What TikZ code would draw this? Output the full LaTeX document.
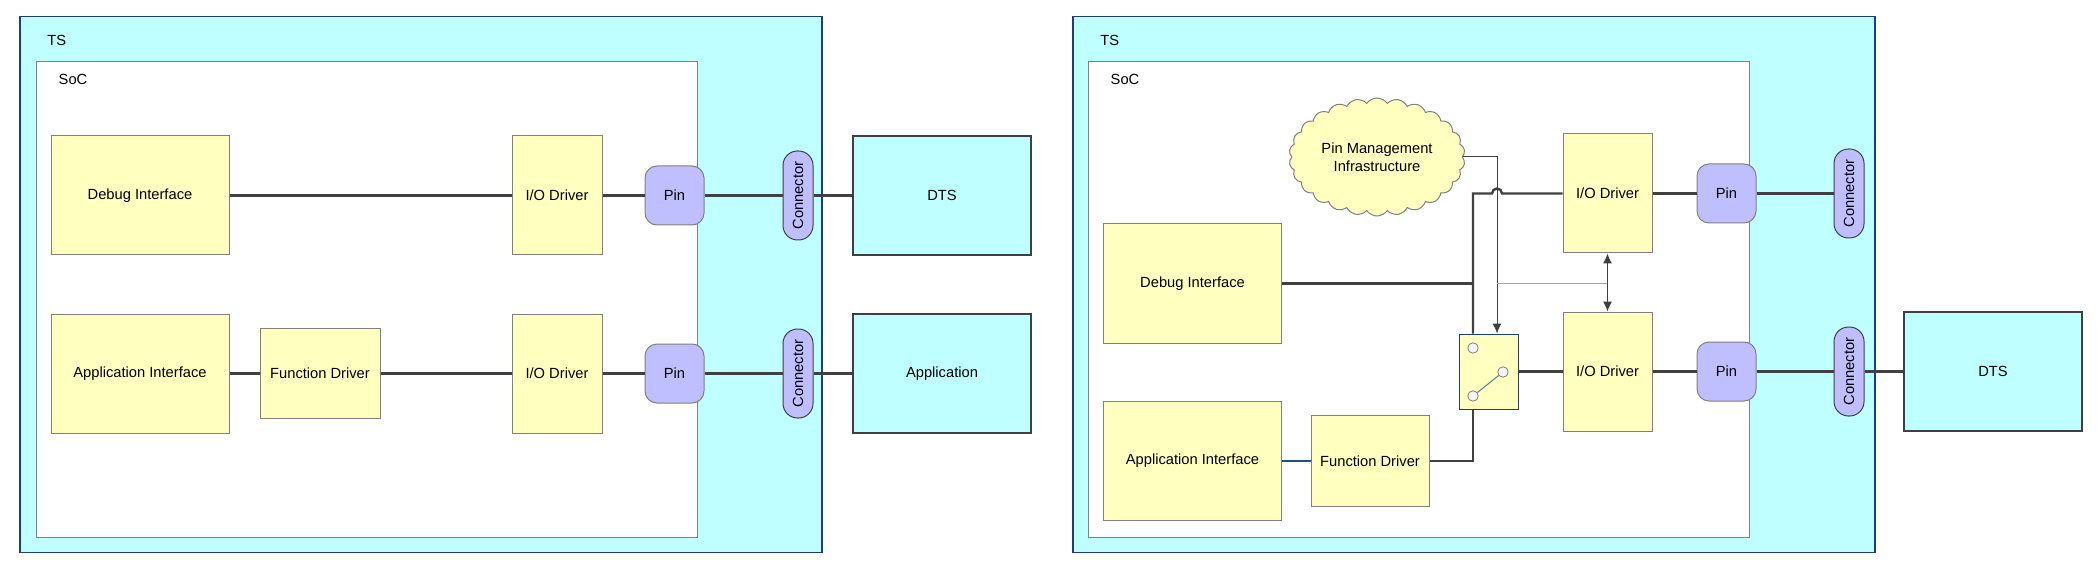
\documentclass[tikz,border=0pt]{standalone}
\usepackage{fontspec}
\setmainfont{Liberation Sans}
\usetikzlibrary{shapes, shapes.symbols, arrows.meta, positioning, calc}

\definecolor{tsfill}{HTML}{BFFFFF}
\definecolor{tsline}{HTML}{1F3D7A}
\definecolor{blockfill}{HTML}{FFFFC0}
\definecolor{pinfill}{HTML}{BFBFFF}
\definecolor{wirecol}{HTML}{404040}
\definecolor{edgecol}{HTML}{808080}
\definecolor{appwire}{HTML}{1F4E8C}
\definecolor{levercol}{HTML}{5A78A8}

\begin{document}
\begin{tikzpicture}[x=1pt, y=-1pt, font=\fontsize{14.7}{17.5}\selectfont,
	ts/.style={draw=tsline, line width=1.6pt, fill=tsfill, minimum width=802pt, minimum height=536pt},
	soc/.style={draw=edgecol, line width=1pt, fill=white, minimum width=661pt, minimum height=476pt},
	tag/.style={anchor=west, inner sep=0pt},
	block/.style={draw=edgecol, line width=1pt, fill=blockfill, minimum width=#1, minimum height=119pt},
	block/.default=178pt,
	pin/.style={draw=edgecol, line width=1pt, fill=pinfill, rounded corners=12pt, minimum size=59pt},
	conn/.style={draw=wirecol, line width=1pt, fill=pinfill, rounded corners=14.5pt, rotate=90,
		minimum width=89pt, minimum height=30pt, inner sep=0pt},
	ext/.style={draw=wirecol, line width=2pt, fill=tsfill, minimum width=178pt, minimum height=119pt},
	pmcloud/.style={cloud, cloud puffs=26, cloud puff arc=110, aspect=1.5, draw=edgecol, line width=1pt,
		fill=blockfill, minimum width=176pt, minimum height=118pt, inner sep=0pt, align=center},
	switch/.style={draw=tsline, line width=1pt, fill=blockfill, minimum width=59pt, minimum height=75pt},
	knob/.style={circle, draw=edgecol, line width=0.8pt, fill=gray!8, minimum size=10.5pt, inner sep=0pt},
	wire/.style={draw=wirecol, line width=2.4pt},
	sig/.style={draw=wirecol, line width=1pt},
	tip/.style={-{Latex[length=10pt,width=9pt]}},
	dtip/.style={{Latex[length=10pt,width=9pt]}-{Latex[length=10pt,width=9pt]}}]

	\useasboundingbox (0,0) rectangle (2100,569);

	% without pin management
	\node[ts] (ts1) at (421,284.5) {};
	\node[tag] (tslab1) at ([xshift=28pt,yshift=-25pt]ts1.north west) {TS};
	\node[soc] (soc1) at (366.5,299.5) {};
	\node[tag] (soclab1) at ([xshift=23pt,yshift=-18pt]soc1.north west) {SoC};

	\node[block] (dbg1) at (140,195.5) {Debug Interface};
	\node[block=90pt] (io1) at (557,195.5) {I/O Driver};
	\node[pin] (pin1) at (674.5,195.5) {Pin};
	\node[conn] (con1) at (798,195.5) {Connector};
	\node[ext] (dts1) at (942,195.5) {DTS};

	\node[block] (app1) at (140,373.5) {Application Interface};
	\node[block=120pt, minimum height=90pt] (fd1) at (320,373.5) {Function Driver};
	\node[block=90pt] (io2) at (557,373.5) {I/O Driver};
	\node[pin] (pin2) at (674.5,373.5) {Pin};
	\node[conn] (con2) at (798,373.5) {Connector};
	\node[ext] (appx) at (942,373.5) {Application};

	\draw[wire] (dbg1) -- (io1);
	\draw[wire] (io1) -- (pin1);
	\draw[wire] (pin1) -- (con1);
	\draw[wire] (con1) -- (dts1);
	\draw[wire] (app1) -- (fd1);
	\draw[wire] (fd1) -- (io2);
	\draw[wire] (io2) -- (pin2);
	\draw[wire] (pin2) -- (con2);
	\draw[wire] (con2) -- (appx);

	% with pin management
	\node[ts] (ts2) at (1474,284.5) {};
	\node[tag] (tslab2) at ([xshift=28pt,yshift=-25pt]ts2.north west) {TS};
	\node[soc] (soc2) at (1418.5,299.5) {};
	\node[tag] (soclab2) at ([xshift=23pt,yshift=-18pt]soc2.north west) {SoC};

	\node[pmcloud] (pmi) at (1377,157) {Pin Management\\Infrastructure};
	\node[block=89pt] (io3) at (1607.5,193.5) {I/O Driver};
	\node[block=89pt] (io4) at (1607.5,371.5) {I/O Driver};
	\node[pin] (pin3) at (1726.5,193.5) {Pin};
	\node[pin] (pin4) at (1726.5,371.5) {Pin};
	\node[conn] (con3) at (1849,193.5) {Connector};
	\node[conn] (con4) at (1849,371.5) {Connector};
	\node[ext] (dts2) at (1993,371.5) {DTS};

	\node[block] (dbg2) at (1192.5,283.5) {Debug Interface};
	\node[block] (app2) at (1192.5,461) {Application Interface};
	\node[block=118pt, minimum height=91pt] (fd2) at (1370,461) {Function Driver};

	\node[switch] (sw) at (1488.5,371.5) {};
	\node[knob] (k1) at (1473,348) {};
	\node[knob] (k2) at (1503,372) {};
	\node[knob] (k3) at (1473,396) {};
	\draw[levercol, line width=1pt] (k3) -- (k2);

	\coordinate (swtop) at (k1 |- sw.north);
	\coordinate (swbot) at (k1 |- sw.south);
	\coordinate (hop) at (1497,193.5);
	\coordinate (swarr) at (hop |- sw.north);
	\coordinate (tap) at (hop |- dbg2.east);

	\draw[wire] (dbg2.east) -- (dbg2.east -| swtop);
	\draw[wire] (swtop) |- ([xshift=-5pt]hop) arc[start angle=180, end angle=0, radius=5pt] -- (io3.west);
	\draw[wire] (fd2.east) -| (swbot);
	\draw[wire] (sw.east) -- (io4.west);
	\draw[wire, draw=appwire] (app2) -- (fd2);
	\draw[wire] (io3) -- (pin3);
	\draw[wire] (pin3) -- (con3);
	\draw[wire] (io4) -- (pin4);
	\draw[wire] (pin4) -- (con4);
	\draw[wire] (con4) -- (dts2);

	\draw[sig, tip] (pmi.east) -| (swarr);
	\draw[sig, draw=gray!70] (tap) -- (tap -| io3.south);
	\draw[sig, dtip] (io3.south) -- (io4.north);
\end{tikzpicture}
\end{document}
